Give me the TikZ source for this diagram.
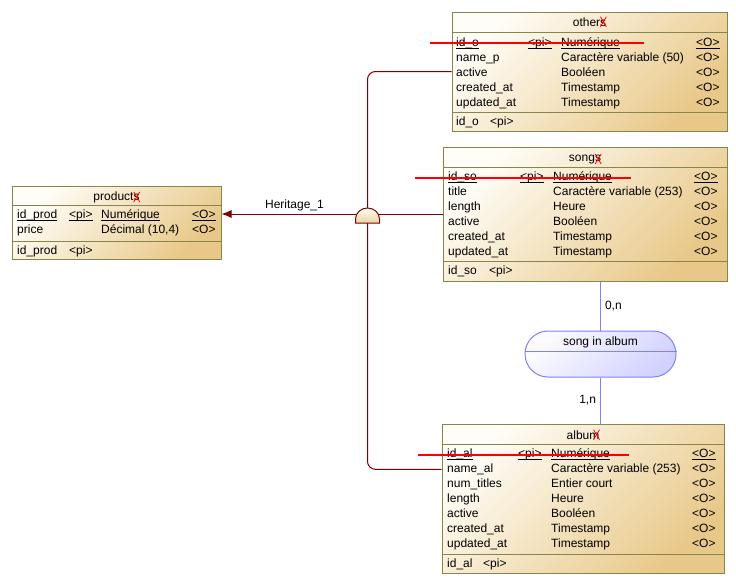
\documentclass[tikz,border=0pt]{standalone}
\usepackage{fontspec}
\setmainfont{Liberation Sans}
\usetikzlibrary{positioning,shapes.misc,arrows.meta,calc}
\definecolor{entlight}{HTML}{FFFDF7}
\definecolor{entdark}{HTML}{E8C888}
\definecolor{entborder}{HTML}{86864A}
\definecolor{assoclight}{HTML}{FBFBFF}
\definecolor{assocdark}{HTML}{D2D2FF}
\definecolor{assocborder}{HTML}{8080FF}
\definecolor{inhred}{HTML}{800000}
\definecolor{strike}{HTML}{FF0000}
\newcommand{\pkul}[1]{\setbox0\hbox{#1}\rlap{\rule[-2.6pt]{\wd0}{0.9pt}}\box0}
\tikzset{
    entity/.style={rectangle, draw=entborder, line width=1pt, top color=entlight, bottom color=entdark, shading angle=45, inner sep=0pt},
    entsep/.style={draw=entborder, line width=1pt},
    ttl/.style={anchor=base, inner sep=0pt, font=\fontsize{12}{14}\selectfont},
    attr/.style={anchor=base west, inner sep=0pt, font=\fontsize{12}{14}\selectfont},
    xmark/.style={draw=strike, line width=0.8pt},
    strikeout/.style={draw=strike, line width=1.8pt},
    inhline/.style={draw=inhred, line width=1pt},
    dome/.style={draw=inhred, line width=1pt, top color=entlight, bottom color=entdark!80},
    assoc/.style={rounded rectangle, draw=assocborder, line width=1pt, top color=assoclight, bottom color=assocdark, shading angle=45, minimum width=151pt, minimum height=46pt, inner sep=0pt},
    link/.style={draw=assocborder, line width=1pt},
    card/.style={inner sep=0pt, font=\fontsize{12}{14}\selectfont}
}

\begin{document}
\begin{tikzpicture}[x=1pt, y=-1pt]
\path[use as bounding box, fill=white] (0,0) rectangle (736,581);

% ── others ──
\node[entity, minimum width=275pt, minimum height=119pt] (others) at (589.5,71.5) {};
\node[ttl] (others-t) at (589.5,26) {others};
\draw[entsep] (others.west |- 0,32) -- (others.east |- 0,32);
\draw[entsep] (others.west |- 0,112) -- (others.east |- 0,112);
\node[attr] (others-1) at (456,46) {\pkul{id\_o}};
\node[attr] at (528,46) {\pkul{<pi>}};
\node[attr] at (561,46) {\pkul{Numérique}};
\node[attr] at (696,46) {\pkul{<O>}};
\foreach \nm/\ty [count=\i from 2] in {name\_p/Caractère variable (50), active/Booléen, created\_at/Timestamp, updated\_at/Timestamp}{
    \node[attr] (others-\i) at (456,{31+15*\i}) {\nm};
    \node[attr] at (561,{31+15*\i}) {\ty};
    \node[attr] at (696,{31+15*\i}) {<O>};
}
\node[attr] (others-k) at (456,125) {id\_o};
\node[attr] at (490,125) {<pi>};

% ── products ──
\node[entity, minimum width=209pt, minimum height=73pt] (products) at (116.5,222.5) {};
\node[ttl] (products-t) at (116.5,200) {products};
\draw[entsep] (products.west |- 0,205) -- (products.east |- 0,205);
\draw[entsep] (products.west |- 0,241) -- (products.east |- 0,241);
\node[attr] (products-1) at (17,218.5) {\pkul{id\_prod}};
\node[attr] at (69,218.5) {\pkul{<pi>}};
\node[attr] at (101,218.5) {\pkul{Numérique}};
\node[attr] at (192,218.5) {\pkul{<O>}};
\node[attr] (products-2) at (17,233.5) {price};
\node[attr] at (101,233.5) {Décimal (10,4)};
\node[attr] at (192,233.5) {<O>};
\node[attr] (products-k) at (17,254) {id\_prod};
\node[attr] at (69,254) {<pi>};

% ── songs ──
\node[entity, minimum width=284pt, minimum height=134pt] (songs) at (585,214) {};
\node[ttl] (songs-t) at (585,161) {songs};
\draw[entsep] (songs.west |- 0,167) -- (songs.east |- 0,167);
\draw[entsep] (songs.west |- 0,261) -- (songs.east |- 0,261);
\node[attr] (songs-1) at (448,180.5) {\pkul{id\_so}};
\node[attr] at (520,180.5) {\pkul{<pi>}};
\node[attr] at (553,180.5) {\pkul{Numérique}};
\node[attr] at (694,180.5) {\pkul{<O>}};
\foreach \nm/\ty [count=\i from 2] in {title/Caractère variable (253), length/Heure, active/Booléen, created\_at/Timestamp, updated\_at/Timestamp}{
    \node[attr] (songs-\i) at (448,{165.5+15*\i}) {\nm};
    \node[attr] at (553,{165.5+15*\i}) {\ty};
    \node[attr] at (694,{165.5+15*\i}) {<O>};
}
\node[attr] (songs-k) at (448,274.5) {id\_so};
\node[attr] at (489,274.5) {<pi>};

% ── album ──
\node[entity, minimum width=282pt, minimum height=149pt] (album) at (583,498.5) {};
\node[ttl] (album-t) at (583,439) {album};
\draw[entsep] (album.west |- 0,444) -- (album.east |- 0,444);
\draw[entsep] (album.west |- 0,554) -- (album.east |- 0,554);
\node[attr] (album-1) at (447,457.5) {\pkul{id\_al}};
\node[attr] at (518,457.5) {\pkul{<pi>}};
\node[attr] at (551,457.5) {\pkul{Numérique}};
\node[attr] at (692,457.5) {\pkul{<O>}};
\foreach \nm/\ty [count=\i from 2] in {name\_al/Caractère variable (253), num\_titles/Entier court, length/Heure, active/Booléen, created\_at/Timestamp, updated\_at/Timestamp}{
    \node[attr] (album-\i) at (447,{442.5+15*\i}) {\nm};
    \node[attr] at (551,{442.5+15*\i}) {\ty};
    \node[attr] at (692,{442.5+15*\i}) {<O>};
}
\node[attr] (album-k) at (447,567) {id\_al};
\node[attr] at (483,567) {<pi>};

% ── red crosses on the names ──
\foreach \t in {others-t, products-t, songs-t, album-t}{
    \draw[xmark] ([shift={(-6pt,5pt)}]\t.east) -- ([shift={(0pt,-5pt)}]\t.east);
    \draw[xmark] ([shift={(-6pt,-5pt)}]\t.east) -- ([shift={(0pt,5pt)}]\t.east);
}

% ── song in album ──
\node[assoc] (sia) at (600.5,354) {};
\node[ttl] (sia-t) at (600.5,345) {song in album};
\draw[link] ([yshift=3pt]sia.west) -- ([yshift=3pt]sia.east);
\draw[link] (sia.north) -- node[card, right=4pt] {0,n} (sia.north |- songs.south);
\draw[link] (sia.south) -- node[card, left=4pt] {1,n} (sia.south |- album.north);

% ── Heritage_1 ──
\coordinate (heritage) at (367.5,214);
\draw[inhline, rounded corners=8pt] (others.west) -| (heritage);
\draw[inhline, rounded corners=8pt] (album.west |- album-2) -| (heritage);
\draw[inhline] (songs.west) -- (heritage);
\draw[inhline, -{Latex[length=10pt, width=8pt]}] (heritage) -- node[card, above=3pt] {Heritage\_1} (products.east |- heritage);
\draw[dome] ($(heritage)+(-12,9)$) -- ++(0,-4) arc[start angle=180, end angle=360, x radius=12, y radius=11] -- ++(0,4) -- cycle;

% ── strike lines ──
\draw[strikeout] (430,43) -- (644,43);
\draw[strikeout] (415,178) -- (631,178);
\draw[strikeout] (418,455) -- (629,455);

\end{tikzpicture}
\end{document}
